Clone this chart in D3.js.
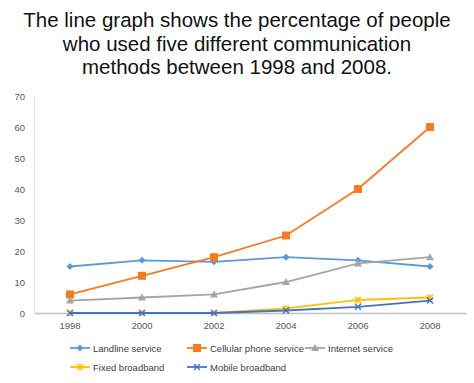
<!DOCTYPE html>
<html>
<head>
<meta charset="utf-8">
<script src="https://cdn.jsdelivr.net/npm/d3@7"></script>
<style>
  body { margin: 0; background: #fff; }
  svg { display: block; font-family: "Liberation Sans", Arial, sans-serif; }
</style>
</head>
<body>
<script>
// data
const years = ['1998', '2000', '2002', '2004', '2006', '2008'];
const landline = [15, 17, 16.5, 18, 17, 15];
const cellular = [6, 12, 18, 25, 40, 60];
const internet = [4, 5, 6, 10, 16, 18];
const fixedBroadband = [0, 0, 0, 1.5, 4.2, 5];
const mobileBroadband = [0, 0, 0, 0.8, 2, 4];
const yTicks = [0, 10, 20, 30, 40, 50, 60, 70];
const titleLines = [
  'The line graph shows the percentage of people',
  'who used five different communication',
  'methods between 1998 and 2008.',
];

const series = [
  { name: 'Landline service', values: landline, color: '#5B9BD5', marker: 'diamond' },
  { name: 'Cellular phone service', values: cellular, color: '#F47B20', marker: 'square' },
  { name: 'Internet service', values: internet, color: '#A5A5A5', marker: 'triangle' },
  { name: 'Fixed broadband', values: fixedBroadband, color: '#FFC000', marker: 'star' },
  { name: 'Mobile broadband', values: mobileBroadband, color: '#4472C4', marker: 'cross' },
];

const width = 474, height = 383;
const margin = { top: 96, right: 8, bottom: 70, left: 34 };

const svg = d3.select('body').append('svg')
  .attr('width', width)
  .attr('height', height);

// title
svg.append('g')
  .selectAll('text')
  .data(titleLines)
  .join('text')
  .attr('x', width / 2)
  .attr('y', (d, i) => 27 + i * 23.5)
  .attr('text-anchor', 'middle')
  .attr('font-size', 20.5)
  .attr('fill', '#111')
  .text(d => d);

const x = d3.scaleBand()
  .domain(years)
  .range([margin.left, width - margin.right]);
const y = d3.scaleLinear()
  .domain([0, 70])
  .range([height - margin.bottom, margin.top]);

const cx = d => x(d) + x.bandwidth() / 2;

// y axis
const yAxis = svg.append('g')
  .attr('transform', `translate(${margin.left},0)`)
  .call(d3.axisLeft(y).tickValues(yTicks).tickSize(0).tickPadding(9));
yAxis.select('.domain').attr('stroke', '#DCE3EC');
yAxis.selectAll('text').attr('font-size', 9.5).attr('fill', '#595959')
  .attr('font-family', '"Liberation Sans", Arial, sans-serif');

// x axis
const xAxis = svg.append('g')
  .attr('transform', `translate(0,${y(0)})`)
  .call(d3.axisBottom(x).tickSize(0).tickPadding(9));
xAxis.select('.domain').attr('stroke', '#BFBFBF').attr('stroke-width', 1.5);
xAxis.selectAll('text').attr('font-size', 9.5).attr('fill', '#595959')
  .attr('font-family', '"Liberation Sans", Arial, sans-serif');

function drawMarker(g, type, color) {
  if (type === 'diamond') {
    g.append('path').attr('d', 'M0,-3.5L3.5,0L0,3.5L-3.5,0Z').attr('fill', color);
  } else if (type === 'square') {
    g.append('rect').attr('x', -4).attr('y', -4).attr('width', 8).attr('height', 8).attr('fill', color);
  } else if (type === 'triangle') {
    g.append('path').attr('d', 'M0,-4L4,3L-4,3Z').attr('fill', color);
  } else if (type === 'star') {
    g.append('path').attr('d', 'M-3,-3L3,3M-3,3L3,-3M0,-3.5L0,3.5')
      .attr('stroke', color).attr('stroke-width', 1.2).attr('fill', 'none');
  } else if (type === 'cross') {
    g.append('path').attr('d', 'M-3,-3L3,3M-3,3L3,-3')
      .attr('stroke', color).attr('stroke-width', 1.4).attr('fill', 'none');
  }
}

const line = d3.line()
  .x((d, i) => cx(years[i]))
  .y(d => y(d));

// series drawn in order, later ones on top (mobile covers fixed at 0)
const plot = svg.append('g');
series.forEach(s => {
  const g = plot.append('g');
  g.append('path')
    .datum(s.values)
    .attr('fill', 'none')
    .attr('stroke', s.color)
    .attr('stroke-width', 1.8)
    .attr('d', line);
  s.values.forEach((v, i) => {
    const m = g.append('g').attr('transform', `translate(${cx(years[i])},${y(v)})`);
    drawMarker(m, s.marker, s.color);
  });
});

// legend
const legendPos = [
  [70, 348], [187, 348], [305, 348],
  [70, 367], [187, 367],
];
series.forEach((s, i) => {
  const [lx, ly] = legendPos[i];
  const g = svg.append('g').attr('transform', `translate(${lx},${ly})`);
  g.append('line').attr('x1', 0).attr('x2', 20).attr('y1', 0).attr('y2', 0)
    .attr('stroke', s.color).attr('stroke-width', 1.8);
  const m = g.append('g').attr('transform', 'translate(10,0)');
  drawMarker(m, s.marker, s.color);
  g.append('text')
    .attr('x', 23)
    .attr('y', 3.5)
    .attr('font-size', 9.5)
    .attr('fill', '#404040')
    .text(s.name);
});
</script>
</body>
</html>
